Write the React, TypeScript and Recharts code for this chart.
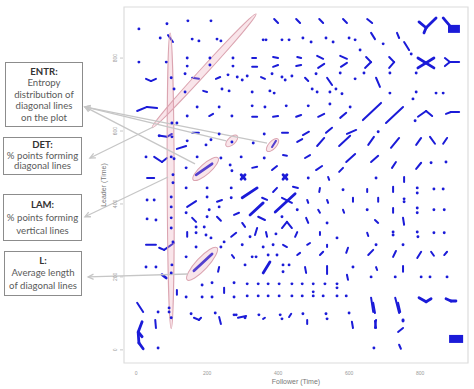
import React from 'react';
import { ScatterChart, Scatter, XAxis, YAxis, ReferenceLine, ReferenceArea } from 'recharts';

const xTicks = [0, 200, 400, 600, 800];
const yTicks = [0, 200, 400, 600, 800];

// single recurrence points (follower time, leader time)
const dots: number[][] = [
  [8, 880], [87, 894], [146, 902], [211, 902], [68, 855], [158, 852], [177, 847], [228, 852], [239, 847],
  [8, 789], [85, 789], [144, 800], [144, 778], [208, 800], [208, 781], [273, 800], [273, 778],
  [138, 757], [259, 754], [285, 748], [138, 707], [242, 715], [262, 710], [172, 666], [234, 666],
  [144, 641], [270, 641], [115, 622], [234, 592], [144, 573], [211, 576], [197, 562], [28, 529],
  [107, 524], [172, 529], [141, 499], [239, 526], [265, 507], [270, 491], [104, 480], [270, 570], [65, 587],
  [99, 746], [107, 715], [101, 622], [101, 584], [99, 529], [104, 458], [99, 419], [99, 392], [99, 362],
  [99, 334], [104, 296], [101, 233], [99, 211], [93, 115], [93, 104], [99, 88],
  [358, 850], [366, 850], [411, 850], [431, 850], [470, 855], [493, 844], [535, 855], [555, 844], [600, 855], [617, 850],
  [631, 822], [696, 839], [775, 811],
  [299, 740], [313, 751], [383, 757], [411, 748], [420, 740], [439, 751], [507, 757], [575, 759], [617, 743],
  [642, 759], [715, 759], [789, 759],
  [327, 707], [377, 710], [389, 704], [496, 715], [510, 707], [546, 707], [563, 715], [580, 702],
  [715, 704], [789, 707], [845, 704], [865, 704], [780, 688],
  [327, 669], [363, 666], [423, 669], [485, 669], [546, 674], [603, 666],
  [786, 628], [361, 592], [682, 598], [330, 567], [296, 529], [361, 526], [831, 513], [873, 515],
  [485, 471], [676, 471],
  [31, 411], [51, 411], [31, 359], [56, 356], [28, 227], [56, 227], [62, 104], [62, 5],
  [141, 444], [200, 444], [200, 419], [268, 444], [268, 417], [234, 392], [206, 384], [141, 376], [200, 365],
  [169, 337], [192, 337], [169, 321], [197, 315], [211, 307], [248, 296], [169, 282], [239, 282], [141, 255],
  [186, 178], [214, 184], [276, 184], [141, 145], [186, 145], [214, 145], [276, 145], [155, 99], [276, 96],
  [223, 101], [282, 96], [346, 96], [406, 96], [470, 99], [535, 99], [538, 85], [600, 101], [670, 5], [752, 79],
  [307, 88], [411, 85],
  [583, 439], [454, 384], [411, 365], [538, 348], [321, 310], [394, 318], [566, 307],
  [299, 288], [358, 282], [386, 288], [327, 255], [338, 255], [372, 260], [397, 260],
  [307, 233], [414, 233], [431, 233], [611, 227], [414, 214],
  [313, 181], [344, 181], [372, 181], [403, 181], [439, 181], [468, 181], [499, 181], [532, 181], [566, 181],
  [313, 148], [344, 148], [372, 148], [403, 148], [439, 148], [468, 148], [499, 148], [527, 148], [566, 148],
  [592, 148], [499, 159], [566, 170],
  [792, 444], [792, 430], [839, 441], [865, 441], [755, 414], [755, 406], [651, 384], [792, 389], [792, 376],
  [839, 384], [868, 384], [724, 323], [724, 315], [792, 323], [794, 310], [839, 321], [868, 321], [676, 288],
  [752, 288], [662, 200], [730, 200], [803, 200], [828, 200], [876, 200], [752, 82],
];

// short recurrence lines, as x,y,x,y,... polylines
const strokes: number[][] = [
  [389, 907, 400, 896], [451, 907, 462, 896], [516, 907, 527, 896], [583, 907, 594, 896], [651, 907, 665, 896],
  [90, 863, 104, 844], [662, 869, 673, 852], [735, 869, 741, 855], [755, 844, 769, 822],
  [28, 743, 42, 737, 56, 743], [158, 746, 177, 743], [225, 743, 237, 748], [189, 710, 200, 707],
  [3, 655, 31, 666, 59, 663], [206, 641, 217, 647],
  [68, 587, 87, 584, 101, 592], [158, 595, 177, 595], [115, 551, 141, 559],
  [51, 529, 73, 515, 87, 526], [31, 471, 51, 471],
  [327, 800, 338, 800], [386, 803, 400, 800], [454, 803, 465, 800], [510, 806, 527, 798], [575, 806, 594, 798],
  [327, 776, 341, 776], [386, 776, 400, 781], [451, 778, 465, 781], [513, 773, 530, 784], [577, 776, 594, 787],
  [648, 803, 662, 789, 645, 773], [713, 803, 727, 789, 713, 773],
  [870, 800, 884, 789, 870, 778], [884, 789, 910, 789],
  [352, 748, 363, 743], [476, 746, 485, 737], [538, 746, 552, 726], [676, 746, 687, 721],
  [327, 639, 341, 639], [386, 639, 400, 641], [451, 639, 465, 644], [513, 639, 530, 647], [575, 636, 592, 650],
  [639, 630, 690, 677], [704, 622, 752, 666], [794, 639, 817, 655, 834, 641], [873, 647, 887, 652, 910, 652],
  [411, 595, 428, 595], [470, 589, 487, 598], [535, 595, 552, 609], [594, 592, 620, 603],
  [654, 562, 670, 584], [718, 554, 741, 581], [789, 562, 803, 581], [828, 584, 842, 565], [865, 565, 876, 581],
  [383, 556, 394, 573], [454, 570, 468, 578], [510, 559, 530, 581], [572, 559, 603, 587],
  [414, 534, 425, 532], [476, 526, 490, 534], [592, 515, 617, 537],
  [662, 515, 682, 532], [721, 499, 732, 515], [789, 496, 803, 513],
  [327, 499, 341, 502], [383, 493, 397, 504], [507, 493, 524, 504], [572, 488, 583, 499],
  [541, 474, 544, 466], [755, 474, 755, 460],
  [65, 280, 79, 274, 107, 293], [28, 288, 56, 288],
  [3, 129, 20, 104], [54, 82, 56, 60], [115, 164, 115, 151],
  [169, 408, 144, 392], [228, 406, 242, 411], [158, 362, 169, 351], [228, 365, 239, 354], [276, 370, 290, 376],
  [144, 323, 144, 310], [268, 310, 282, 321], [234, 227, 231, 214], [270, 260, 276, 252], [248, 170, 248, 156],
  [163, 88, 177, 82, 183, 88], [234, 90, 239, 71], [287, 88, 310, 93], [358, 85, 363, 88], [431, 90, 437, 99],
  [482, 82, 482, 71], [608, 77, 611, 60], [668, 129, 673, 101], [673, 79, 676, 60], [738, 129, 744, 104],
  [738, 49, 752, 60], [741, 14, 746, 3],
  [386, 433, 397, 444], [442, 447, 456, 444], [516, 433, 518, 444],
  [411, 417, 439, 403], [355, 417, 369, 411], [482, 411, 485, 403], [538, 411, 541, 403], [611, 417, 611, 406],
  [344, 365, 363, 356], [479, 362, 485, 348], [513, 384, 518, 376], [583, 384, 586, 376],
  [411, 334, 425, 351, 439, 334], [299, 348, 307, 337], [366, 323, 369, 310], [454, 323, 448, 310],
  [518, 323, 518, 315], [341, 334, 335, 315],
  [414, 288, 425, 282], [454, 260, 462, 266], [482, 288, 490, 293], [518, 260, 527, 269], [538, 288, 538, 282],
  [592, 266, 597, 280], [476, 227, 479, 211], [538, 230, 538, 208], [594, 206, 597, 192],
  [651, 441, 651, 433], [724, 447, 724, 433], [682, 417, 682, 406], [724, 389, 724, 376], [673, 356, 682, 348],
  [752, 362, 755, 343], [651, 321, 654, 312], [654, 260, 668, 274], [724, 255, 732, 271], [792, 252, 803, 269],
  [831, 269, 839, 258], [868, 260, 876, 269], [676, 227, 679, 219], [752, 230, 752, 214],
  [662, 143, 668, 104], [730, 143, 741, 101], [676, 82, 673, 60],
];

// longer / thicker recurrence lines
const heavy: number[][] = [
  [163, 217, 214, 263], [169, 480, 214, 510],
  [299, 417, 341, 444], [392, 378, 448, 428], [321, 370, 358, 403], [358, 211, 377, 241],
  [296, 480, 307, 468], [296, 468, 307, 480], [414, 480, 425, 468], [414, 468, 425, 480],
  [794, 800, 839, 773], [794, 773, 839, 800],
  [797, 899, 817, 883, 845, 910], [817, 883, 811, 869], [865, 910, 887, 885],
  [797, 143, 817, 132, 831, 140], [873, 140, 887, 134, 901, 134],
  [17, 77, 6, 49, 17, 36], [6, 47, 8, 19, 20, 3], [73, 206, 85, 197],
];

// dense square blocks
const blocks: number[][] = [
  [890, 880, 901, 880], [893, 30, 910, 30],
];

// highlighted structures (pink ovals), tip to tip
const ovals: number[][] = [
  [96, 869, 99, 58], [45, 609, 338, 921], [254, 559, 285, 587], [369, 545, 400, 578],
  [161, 466, 231, 526], [144, 192, 228, 280],
];

// annotation arrows: from the note box to the structure
const arrows: number[][] = [
  [-144, 666, 254, 573], [-144, 666, 369, 567], [-144, 666, 166, 510],
  [-130, 526, 48, 611],
  [-144, 365, 90, 474],
  [-135, 200, 146, 208],
];

const notes = [
  { title: 'ENTR:', lines: ['Entropy', 'distribution of', 'diagonal lines', 'on the plot'] },
  { title: 'DET:', lines: ['% points forming', 'diagonal lines'] },
  { title: 'LAM:', lines: ['% points forming', 'vertical lines'] },
  { title: 'L:', lines: ['Average length', 'of diagonal lines'] },
];

const noteBoxes = [
  { left: 5, top: 62, width: 78, height: 65, lh: 11.6 },
  { left: 3, top: 137, width: 79, height: 38, lh: 10.8 },
  { left: 3, top: 194, width: 79, height: 47, lh: 13.2 },
  { left: 4, top: 251, width: 78, height: 45, lh: 12.4 },
];

const BLUE = '#1b1bd8';

const dotData = dots.map(([x, y]) => ({ x, y }));

const segmentsOf = (lines: number[][]) => {
  const out: { x: number; y: number }[][] = [];
  lines.forEach((p) => {
    for (let i = 0; i + 3 < p.length; i += 2) {
      out.push([{ x: p[i], y: p[i + 1] }, { x: p[i + 2], y: p[i + 3] }]);
    }
  });
  return out;
};

const DotShape = (p: any) => <circle cx={p.cx} cy={p.cy} r={1.45} fill={BLUE} />;

const Oval = (p: any) => {
  const { x1, y1, x2, y2 } = p;
  const cx = (x1 + x2) / 2;
  const cy = (y1 + y2) / 2;
  const len = Math.hypot(x2 - x1, y2 - y1);
  const ang = (Math.atan2(y2 - y1, x2 - x1) * 180) / Math.PI;
  const ry = len < 60 ? 2.5 + len * 0.08 : 3.5;
  return (
    <ellipse
      cx={cx}
      cy={cy}
      rx={len / 2}
      ry={ry}
      transform={`rotate(${ang} ${cx} ${cy})`}
      fill="rgba(232,160,178,0.28)"
      stroke="#dba4b0"
      strokeWidth={1}
    />
  );
};

const Arrow = (p: any) => {
  const { x1, y1, x2, y2 } = p;
  const a = Math.atan2(y2 - y1, x2 - x1);
  const h = 6;
  const s = 0.45;
  return (
    <g stroke="#c6c6c6" strokeWidth={1.3} fill="none">
      <line x1={x1} y1={y1} x2={x2} y2={y2} />
      <polyline
        points={`${x1 + h * Math.cos(a + s)},${y1 + h * Math.sin(a + s)} ${x1},${y1} ${x1 + h * Math.cos(a - s)},${y1 + h * Math.sin(a - s)}`}
      />
    </g>
  );
};

const YTick = (p: any) => {
  const { y, payload } = p;
  return (
    <g>
      <line x1={120} x2={123} y1={y} y2={y} stroke="#c8c8c8" />
      <text x={117} y={y} transform={`rotate(-90 117 ${y})`} textAnchor="middle" fontSize={5} fill="#999">
        {payload.value}
      </text>
    </g>
  );
};

const App: React.FC = () => {
  return (
    <div style={{ position: 'absolute', left: 0, top: 0, width: 474, height: 389, background: '#fff', fontFamily: '"Liberation Sans", Arial, sans-serif' }}>
      <ScatterChart width={474} height={389} margin={{ top: 7, right: 6, left: 100, bottom: 0 }}>
        <XAxis
          type="number"
          dataKey="x"
          domain={[-34, 935]}
          ticks={xTicks}
          axisLine={false}
          tickLine={false}
          height={26}
          tick={{ fontSize: 5, fill: '#999' }}
          label={{ value: 'Follower (Time)', position: 'insideBottom', offset: 5, fontSize: 7, style: { fill: '#777' } }}
        />
        <YAxis
          type="number"
          dataKey="y"
          domain={[-36, 940]}
          ticks={yTicks}
          axisLine={false}
          tickLine={false}
          width={24}
          tick={YTick}
          label={{ value: 'Leader (Time)', angle: -90, position: 'insideLeft', offset: 4, fontSize: 7, style: { textAnchor: 'middle', fill: '#777' } }}
        />
        <ReferenceArea x1={-34} x2={935} y1={-36} y2={940} fill="none" stroke="#dcdcdc" strokeWidth={1.2} />
        {segmentsOf(strokes).map((seg, i) => (
          <ReferenceLine key={'s' + i} segment={seg} stroke={BLUE} strokeWidth={2} strokeLinecap="round" />
        ))}
        {segmentsOf(heavy).map((seg, i) => (
          <ReferenceLine key={'h' + i} segment={seg} stroke={BLUE} strokeWidth={2.8} strokeLinecap="round" strokeLinejoin="round" />
        ))}
        {segmentsOf(blocks).map((seg, i) => (
          <ReferenceLine key={'b' + i} segment={seg} stroke={BLUE} strokeWidth={8} strokeLinecap="square" />
        ))}
        <Scatter data={dotData} isAnimationActive={false} shape={DotShape} />
        {segmentsOf(ovals).map((seg, i) => (
          <ReferenceLine key={'o' + i} segment={seg} shape={Oval} ifOverflow="visible" />
        ))}
        {segmentsOf(arrows).map((seg, i) => (
          <ReferenceLine key={'a' + i} segment={seg} shape={Arrow} ifOverflow="visible" />
        ))}
      </ScatterChart>
      {notes.map((n, i) => {
        const b = noteBoxes[i];
        return (
          <div
            key={n.title}
            style={{
              position: 'absolute',
              left: b.left,
              top: b.top,
              width: b.width,
              height: b.height,
              boxSizing: 'border-box',
              border: '1.5px solid #8c8c8c',
              display: 'flex',
              flexDirection: 'column',
              justifyContent: 'center',
              alignItems: 'center',
              fontFamily: 'Lato, "Open Sans", sans-serif',
              fontSize: 9.6,
              lineHeight: `${b.lh}px`,
              color: '#5a5a5a',
              whiteSpace: 'nowrap',
              background: '#fff',
            }}
          >
            <div style={{ fontWeight: 700, color: '#333' }}>{n.title}</div>
            {n.lines.map((l) => (
              <div key={l}>{l}</div>
            ))}
          </div>
        );
      })}
    </div>
  );
};

export default App;
